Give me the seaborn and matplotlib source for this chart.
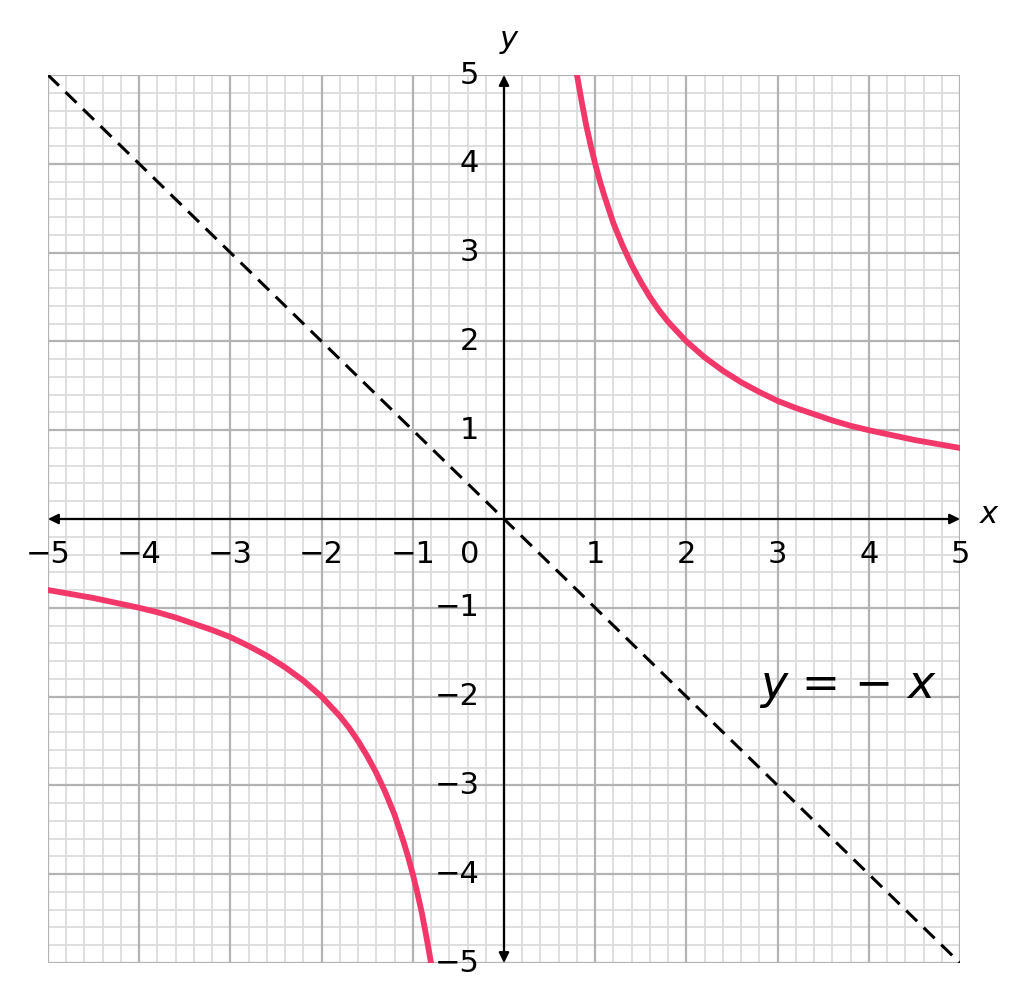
import numpy as np
import pandas as pd
import seaborn as sns
import matplotlib.pyplot as plt

## Curve points (y = 4/x, two branches)
curve_x_pos = [0.8, 0.85, 0.9, 0.95, 1.0, 1.05, 1.1, 1.2, 1.3, 1.4, 1.5, 1.6, 1.7, 1.8, 1.9, 2.0, 2.2, 2.4, 2.6, 2.8, 3.0, 3.2, 3.4, 3.6, 3.8, 4.0, 4.5, 5.0]
curve_y_pos = [5.0, 4.71, 4.44, 4.21, 4.0, 3.81, 3.64, 3.33, 3.08, 2.86, 2.67, 2.5, 2.35, 2.22, 2.11, 2.0, 1.82, 1.67, 1.54, 1.43, 1.33, 1.25, 1.18, 1.11, 1.05, 1.0, 0.89, 0.8]
curve_x_neg = [-5.0, -4.5, -4.0, -3.8, -3.6, -3.4, -3.2, -3.0, -2.8, -2.6, -2.4, -2.2, -2.0, -1.9, -1.8, -1.7, -1.6, -1.5, -1.4, -1.3, -1.2, -1.1, -1.05, -1.0, -0.95, -0.9, -0.85, -0.8]
curve_y_neg = [-0.8, -0.89, -1.0, -1.05, -1.11, -1.18, -1.25, -1.33, -1.43, -1.54, -1.67, -1.82, -2.0, -2.11, -2.22, -2.35, -2.5, -2.67, -2.86, -3.08, -3.33, -3.64, -3.81, -4.0, -4.21, -4.44, -4.71, -5.0]

## Dashed line y = -x
line_x = [-5, 5]
line_y = [5, -5]

tick_values = [-5, -4, -3, -2, -1, 1, 2, 3, 4, 5]
tick_labels = ["−5", "−4", "−3", "−2", "−1", "1", "2", "3", "4", "5"]

curve_color = "#F2386A"

sns.set_style("white")
plt.rcParams['font.family'] = ['DejaVu Sans']
plt.rcParams['text.color'] = 'black'

fig = plt.figure(figsize=(10.24, 10.07), dpi=100)
ax = fig.add_axes([48 / 1024, 44 / 1007, 912 / 1024, 888 / 1007])

# grid: minor every 0.2, major every 1
for v in np.arange(-5, 5.01, 0.2):
    if abs(v - round(v)) < 1e-6:
        continue
    ax.axvline(v, color="#dcdcdc", lw=1.3, zorder=0)
    ax.axhline(v, color="#dcdcdc", lw=1.3, zorder=0)
for v in range(-5, 6):
    ax.axvline(v, color="#b3b3b3", lw=1.6, zorder=0.5)
    ax.axhline(v, color="#b3b3b3", lw=1.6, zorder=0.5)

# curves
pos_df = pd.DataFrame({"x": curve_x_pos, "y": curve_y_pos})
neg_df = pd.DataFrame({"x": curve_x_neg, "y": curve_y_neg})
sns.lineplot(data=pos_df, x="x", y="y", ax=ax, color=curve_color, lw=4.2, sort=False, zorder=3)
sns.lineplot(data=neg_df, x="x", y="y", ax=ax, color=curve_color, lw=4.2, sort=False, zorder=3)

# dashed line
sns.lineplot(x=line_x, y=line_y, ax=ax, color="black", lw=2.2, linestyle=(0, (5, 3)), zorder=2)

# axes with arrows
ax.annotate("", xy=(5, 0), xytext=(-5, 0),
            arrowprops=dict(arrowstyle="<|-|>", color="black", lw=1.6, mutation_scale=15, shrinkA=0, shrinkB=0), zorder=4)
ax.annotate("", xy=(0, 5), xytext=(0, -5),
            arrowprops=dict(arrowstyle="<|-|>", color="black", lw=1.6, mutation_scale=15, shrinkA=0, shrinkB=0), zorder=4)

# tick labels
for v, lab in zip(tick_values, tick_labels):
    ax.text(v, -0.4, lab, ha="center", va="center", fontsize=22, color="black", zorder=5)
    ax.text(-0.27, v, lab, ha="right", va="center", fontsize=22, color="black", zorder=5)
ax.text(-0.27, -0.4, "0", ha="right", va="center", fontsize=22, color="black", zorder=5)

# axis names
ax.text(5.32, 0.05, "x", ha="center", va="center", fontsize=22, style="italic", color="black", clip_on=False)
ax.text(0.05, 5.4, "y", ha="center", va="center", fontsize=22, style="italic", color="black", clip_on=False)

# equation label
ax.text(3.77, -1.87, "y = − x", ha="center", va="center", fontsize=33, style="italic", color="black")

ax.set_xlim(-5, 5)
ax.set_ylim(-5, 5)
ax.set(xlabel=None, ylabel=None)
ax.set_xticks([])
ax.set_yticks([])
for s in ax.spines.values():
    s.set_visible(False)

plt.savefig("out.png", dpi=100)
plt.close()
